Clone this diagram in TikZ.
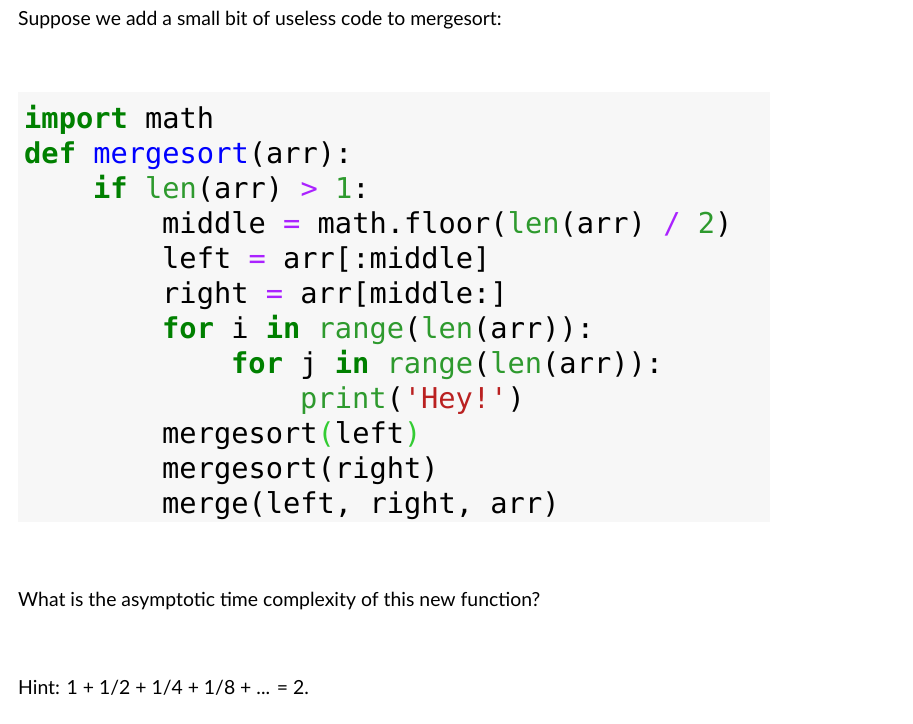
\documentclass[tikz,border=0pt]{standalone}
\usepackage{fontspec}
\setmainfont{Lato}
\setmonofont{DejaVu Sans Mono}
\definecolor{kw}{HTML}{008000}
\definecolor{bi}{HTML}{2E9A2E}
\definecolor{fn}{HTML}{0000FF}
\definecolor{op}{HTML}{AA22FF}
\definecolor{st}{HTML}{BA2121}
\definecolor{br}{HTML}{33CC33}
\definecolor{bg}{HTML}{F7F7F7}
\newcommand{\K}[1]{\textcolor{kw}{\bfseries #1}}
\newcommand{\B}[1]{\textcolor{bi}{#1}}
\newcommand{\F}[1]{\textcolor{fn}{#1}}
\newcommand{\Op}[1]{\textcolor{op}{#1}}
\newcommand{\St}[1]{\textcolor{st}{#1}}
\newcommand{\Br}[1]{\textcolor{br}{#1}}
\begin{document}
\begin{tikzpicture}[x=1pt,y=1pt,
  prose/.style={anchor=base west,inner sep=0pt,font=\fontsize{19.4}{22}\selectfont},
  code/.style={anchor=base west,inner sep=0pt,font=\ttfamily\fontsize{28.7}{34}\selectfont}]
\useasboundingbox[fill=white] (0,0) rectangle (913,-723);
\fill[bg] (18,-92) rectangle (770,-522);
\node[prose] (q1) at (18,-25) {Suppose we add a small bit of useless code to mergesort:};
\node[code] (c1) at (24,-128) {\K{import} math};
\node[code] (c2) at (24,-163) {\K{def} \F{mergesort}(arr):};
\node[code] (c3) at (93,-198) {\K{if} \B{len}(arr) \Op{>} \B{1}:};
\node[code] (c4) at (162,-233) {middle \Op{=} math.floor(\B{len}(arr) \Op{/} \B{2})};
\node[code] (c5) at (162,-268) {left \Op{=} arr[:middle]};
\node[code] (c6) at (162,-303) {right \Op{=} arr[middle:]};
\node[code] (c7) at (162,-338) {\K{for} i \K{in} \B{range}(\B{len}(arr)):};
\node[code] (c8) at (231,-373) {\K{for} j \K{in} \B{range}(\B{len}(arr)):};
\node[code] (c9) at (300,-408) {\B{print}(\St{'Hey!'})};
\node[code] (c10) at (162,-443) {mergesort\Br{(}left\Br{)}};
\node[code] (c11) at (162,-478) {mergesort(right)};
\node[code] (c12) at (162,-513) {merge(left, right, arr)};
\node[prose] (q2) at (18,-606) {What is the asymptotic time complexity of this new function?};
\node[prose] (q3) at (18,-694) {Hint: 1 + 1/2 + 1/4 + 1/8 + ... = 2.};
\end{tikzpicture}
\end{document}
